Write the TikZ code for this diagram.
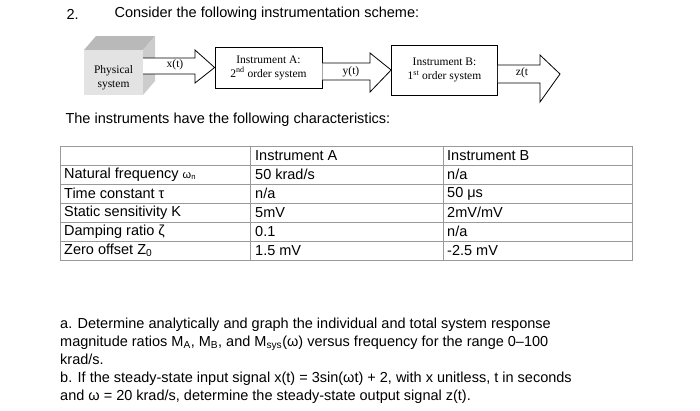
\documentclass[tikz,border=0pt]{standalone}
\usepackage{fontspec}
\setmainfont{Liberation Sans}
\newfontfamily\boxfont{Liberation Serif}
\usetikzlibrary{positioning, calc}

\begin{document}
\begin{tikzpicture}[x=1pt, y=-1pt, font=\fontsize{14.5}{18}\selectfont]
    \tikzstyle{inst} = [rectangle, draw, thick, align=center, font=\boxfont\fontsize{11.5}{14}\selectfont, inner sep=0pt]
    \tikzstyle{sig} = [font=\boxfont\fontsize{11.5}{14}\selectfont]
    \useasboundingbox (0,0) rectangle (700,410);

    \node[anchor=west] (num) at (63,14) {2.};
    \node[anchor=west] (title) at (111,14) {Consider the following instrumentation scheme:};

    % physical system cube
    \fill[gray!55] (84,50) -- (96,36) -- (155,36) -- (143,50) -- cycle;
    \fill[gray!40] (143,50) -- (155,36) -- (155,81) -- (143,95) -- cycle;
    \fill[gray!22] (84,50) rectangle (143,95);
    \node[sig, align=center] (phys) at (113.5,78) {Physical\\system};
    \coordinate (zout) at (560,74);

    \node[inst, minimum width=107, minimum height=41] (instA) at (268.5,67.5) {Instrument A:\\2\textsuperscript{nd} order system};
    \node[inst, minimum width=106, minimum height=50] (instB) at (444.5,70) {Instrument B:\\1\textsuperscript{st} order system};

    % signal arrows
    \draw[thick, fill=white] (143,58) -- (195,58) -- (195,50) -- (instA.west) -- (195,83) -- (195,74) -- (143,74);
    \node[sig] (xt) at (175,65) {x(t)};
    \draw[thick, fill=white] (instA.east |- 0,63) -- (370,63) -- (370,53) -- (instB.west) -- (370,92) -- (370,80) -- (instA.east |- 0,80);
    \node[sig] (yt) at (351,72) {y(t)};
    \draw[thick, fill=white] (instB.east |- 0,65) -- (540,65) -- (540,55) -- (zout) -- (540,102) -- (540,83) -- (instB.east |- 0,83);
    \node[sig] (zt) at (522,73) {z(t};

    \node[anchor=west] (intro) at (62,120) {The instruments have the following characteristics:};

    % table
    \draw[gray!80, thick] (60,146) rectangle (632,260);
    \foreach \y in {165,184,203,222,241} \draw[gray!80] (60,\y) -- (632,\y);
    \foreach \x in {250,443} \draw[gray!80] (\x,146) -- (\x,260);
    \foreach \r/\a/\b/\c in {0/{}/{Instrument A}/{Instrument B},
        1/{Natural frequency {\fontsize{11}{12}\selectfont ω\textsubscript{n}}}/{50 krad/s}/{n/a},
        2/{Time constant τ}/{n/a}/{50 μs},
        3/{Static sensitivity K}/{5mV}/{2mV/mV},
        4/{Damping ratio ζ}/{0.1}/{n/a},
        5/{Zero offset Z\textsubscript{0}}/{1.5 mV}/{-2.5 mV}} {
      \node[anchor=west, inner sep=0pt] (c1\r) at (64,155.5+19*\r) {\a};
      \node[anchor=west, inner sep=0pt] (c2\r) at (255,155.5+19*\r) {\b};
      \node[anchor=west, inner sep=0pt] (c3\r) at (447,155.5+19*\r) {\c};
    }

    \node[anchor=north west, inner sep=0pt, align=left] (qtext) at (60,318) {a. Determine analytically and graph the individual and total system response\\
    magnitude ratios M\textsubscript{A}, M\textsubscript{B}, and M\textsubscript{sys}(ω) versus frequency for the range 0–100\\
    krad/s.\\
    b. If the steady-state input signal x(t) = 3sin(ωt) + 2, with x unitless, t in seconds\\
    and ω = 20 krad/s, determine the steady-state output signal z(t).};
\end{tikzpicture}
\end{document}
